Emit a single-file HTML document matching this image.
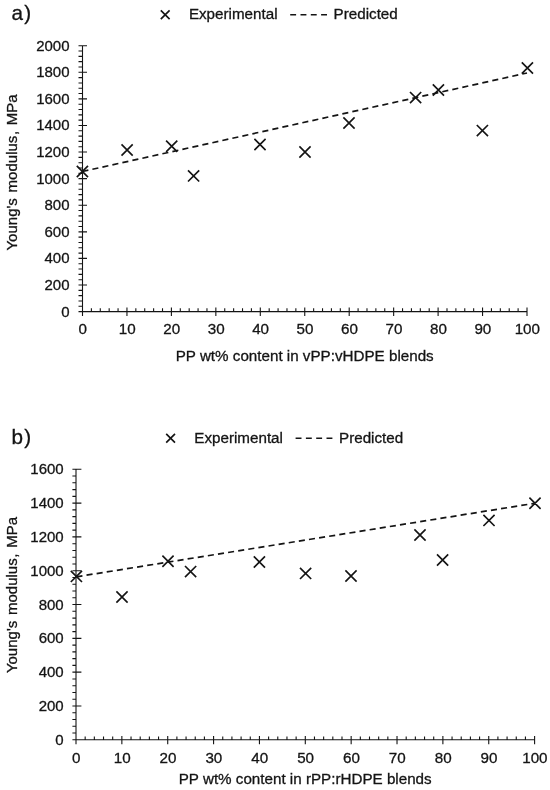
<!DOCTYPE html>
<html lang="en">
<head>
<meta charset="utf-8">
<title>Young's modulus of PP:HDPE blends</title>
<style>
html,body{margin:0;padding:0;background:#fff;}
body{width:550px;height:790px;overflow:hidden;}
svg{display:block;font-family:"Liberation Sans",Arial,Helvetica,sans-serif;font-size:15.2px;}
svg text{fill:#141414;stroke:#141414;stroke-width:0.3px;}
</style>
</head>
<body>
<svg width="550" height="790" viewBox="0 0 550 790">
<rect width="550" height="790" fill="#fff"/>
<g>
<path d="M82.5 45.7 V316 M78.5 311.6 H527 M78.5 45.7H87 M78.5 51.02H82.5 M78.5 56.34H82.5 M78.5 61.65H82.5 M78.5 66.97H82.5 M78.5 72.29H87 M78.5 77.61H82.5 M78.5 82.93H82.5 M78.5 88.24H82.5 M78.5 93.56H82.5 M78.5 98.88H87 M78.5 104.2H82.5 M78.5 109.52H82.5 M78.5 114.83H82.5 M78.5 120.15H82.5 M78.5 125.47H87 M78.5 130.79H82.5 M78.5 136.11H82.5 M78.5 141.42H82.5 M78.5 146.74H82.5 M78.5 152.06H87 M78.5 157.38H82.5 M78.5 162.7H82.5 M78.5 168.01H82.5 M78.5 173.33H82.5 M78.5 178.65H87 M78.5 183.97H82.5 M78.5 189.29H82.5 M78.5 194.6H82.5 M78.5 199.92H82.5 M78.5 205.24H87 M78.5 210.56H82.5 M78.5 215.88H82.5 M78.5 221.19H82.5 M78.5 226.51H82.5 M78.5 231.83H87 M78.5 237.15H82.5 M78.5 242.47H82.5 M78.5 247.78H82.5 M78.5 253.1H82.5 M78.5 258.42H87 M78.5 263.74H82.5 M78.5 269.06H82.5 M78.5 274.37H82.5 M78.5 279.69H82.5 M78.5 285.01H87 M78.5 290.33H82.5 M78.5 295.65H82.5 M78.5 300.96H82.5 M78.5 306.28H82.5 M91.39 308.3V311.6 M100.28 308.3V311.6 M109.17 308.3V311.6 M118.06 308.3V311.6 M126.95 307.6V316 M135.84 308.3V311.6 M144.73 308.3V311.6 M153.62 308.3V311.6 M162.51 308.3V311.6 M171.4 307.6V316 M180.29 308.3V311.6 M189.18 308.3V311.6 M198.07 308.3V311.6 M206.96 308.3V311.6 M215.85 307.6V316 M224.74 308.3V311.6 M233.63 308.3V311.6 M242.52 308.3V311.6 M251.41 308.3V311.6 M260.3 307.6V316 M269.19 308.3V311.6 M278.08 308.3V311.6 M286.97 308.3V311.6 M295.86 308.3V311.6 M304.75 307.6V316 M313.64 308.3V311.6 M322.53 308.3V311.6 M331.42 308.3V311.6 M340.31 308.3V311.6 M349.2 307.6V316 M358.09 308.3V311.6 M366.98 308.3V311.6 M375.87 308.3V311.6 M384.76 308.3V311.6 M393.65 307.6V316 M402.54 308.3V311.6 M411.43 308.3V311.6 M420.32 308.3V311.6 M429.21 308.3V311.6 M438.1 307.6V316 M446.99 308.3V311.6 M455.88 308.3V311.6 M464.77 308.3V311.6 M473.66 308.3V311.6 M482.55 307.6V316 M491.44 308.3V311.6 M500.33 308.3V311.6 M509.22 308.3V311.6 M518.11 308.3V311.6 M527 307.6V316" fill="none" stroke="#141414" stroke-width="1.1"/>
<g text-anchor="end" style="font-size:15px">
<text x="69.5" y="50.7">2000</text>
<text x="69.5" y="77.29">1800</text>
<text x="69.5" y="103.88">1600</text>
<text x="69.5" y="130.47">1400</text>
<text x="69.5" y="157.06">1200</text>
<text x="69.5" y="183.65">1000</text>
<text x="69.5" y="210.24">800</text>
<text x="69.5" y="236.83">600</text>
<text x="69.5" y="263.42">400</text>
<text x="69.5" y="290.01">200</text>
<text x="69.5" y="316.6">0</text>
</g>
<g text-anchor="middle">
<text x="82.8" y="334.1">0</text>
<text x="127.25" y="334.1">10</text>
<text x="171.7" y="334.1">20</text>
<text x="216.15" y="334.1">30</text>
<text x="260.6" y="334.1">40</text>
<text x="305.05" y="334.1">50</text>
<text x="349.5" y="334.1">60</text>
<text x="393.95" y="334.1">70</text>
<text x="438.4" y="334.1">80</text>
<text x="482.85" y="334.1">90</text>
<text x="527.3" y="334.1">100</text>
</g>
<text x="304.7" y="361.1" text-anchor="middle">PP wt% content in vPP:vHDPE blends</text>
<text transform="translate(16.7 172.4) rotate(-90)" text-anchor="middle" style="font-size:15px;word-spacing:1.6px">Young's modulus<tspan dx="0.6">,</tspan> MPa</text>
<text x="11.4" y="20.2" style="font-size:20.7px;letter-spacing:1.3px">a)</text>
<path d="M160.8 10.3l8.8 8.8M160.8 19.1l8.8 -8.8" fill="none" stroke="#141414" stroke-width="1.65"/>
<text x="188.9" y="19.2">Experimental</text>
<path d="M290.2 14.75H327.2" fill="none" stroke="#141414" stroke-width="1.7" stroke-dasharray="5.9 4.4"/>
<text x="333.6" y="19.2">Predicted</text>
<path d="M82.4 171.5L527 73" fill="none" stroke="#141414" stroke-width="1.7" stroke-dasharray="6.1 4.14"/>
<path d="M76.8 165.9l11.2 11.2M76.8 177.1l11.2 -11.2 M121.5 144.4l11.2 11.2M121.5 155.6l11.2 -11.2 M166.1 140.6l11.2 11.2M166.1 151.8l11.2 -11.2 M188 170.3l11.2 11.2M188 181.5l11.2 -11.2 M254.4 138.9l11.2 11.2M254.4 150.1l11.2 -11.2 M299.4 146.4l11.2 11.2M299.4 157.6l11.2 -11.2 M343.4 117.4l11.2 11.2M343.4 128.6l11.2 -11.2 M410 92l11.2 11.2M410 103.2l11.2 -11.2 M432.8 84.4l11.2 11.2M432.8 95.6l11.2 -11.2 M476.8 125l11.2 11.2M476.8 136.2l11.2 -11.2 M521.8 62.4l11.2 11.2M521.8 73.6l11.2 -11.2" fill="none" stroke="#141414" stroke-width="1.65"/>
</g>
<g>
<path d="M76 469.3 V744.2 M72.4 739.8 H534.6 M72.4 469.3H81.4 M72.4 476.06H76 M72.4 482.82H76 M72.4 489.59H76 M72.4 496.35H76 M72.4 503.11H81.4 M72.4 509.88H76 M72.4 516.64H76 M72.4 523.4H76 M72.4 530.16H76 M72.4 536.92H81.4 M72.4 543.69H76 M72.4 550.45H76 M72.4 557.21H76 M72.4 563.98H76 M72.4 570.74H81.4 M72.4 577.5H76 M72.4 584.26H76 M72.4 591.02H76 M72.4 597.79H76 M72.4 604.55H81.4 M72.4 611.31H76 M72.4 618.08H76 M72.4 624.84H76 M72.4 631.6H76 M72.4 638.36H81.4 M72.4 645.12H76 M72.4 651.89H76 M72.4 658.65H76 M72.4 665.41H76 M72.4 672.17H81.4 M72.4 678.94H76 M72.4 685.7H76 M72.4 692.46H76 M72.4 699.22H76 M72.4 705.99H81.4 M72.4 712.75H76 M72.4 719.51H76 M72.4 726.27H76 M72.4 733.04H76 M85.17 736.6V739.8 M94.34 736.6V739.8 M103.52 736.6V739.8 M112.69 736.6V739.8 M121.86 736V744.2 M131.03 736.6V739.8 M140.2 736.6V739.8 M149.38 736.6V739.8 M158.55 736.6V739.8 M167.72 736V744.2 M176.89 736.6V739.8 M186.06 736.6V739.8 M195.24 736.6V739.8 M204.41 736.6V739.8 M213.58 736V744.2 M222.75 736.6V739.8 M231.92 736.6V739.8 M241.1 736.6V739.8 M250.27 736.6V739.8 M259.44 736V744.2 M268.61 736.6V739.8 M277.78 736.6V739.8 M286.96 736.6V739.8 M296.13 736.6V739.8 M305.3 736V744.2 M314.47 736.6V739.8 M323.64 736.6V739.8 M332.82 736.6V739.8 M341.99 736.6V739.8 M351.16 736V744.2 M360.33 736.6V739.8 M369.5 736.6V739.8 M378.68 736.6V739.8 M387.85 736.6V739.8 M397.02 736V744.2 M406.19 736.6V739.8 M415.36 736.6V739.8 M424.54 736.6V739.8 M433.71 736.6V739.8 M442.88 736V744.2 M452.05 736.6V739.8 M461.22 736.6V739.8 M470.4 736.6V739.8 M479.57 736.6V739.8 M488.74 736V744.2 M497.91 736.6V739.8 M507.08 736.6V739.8 M516.26 736.6V739.8 M525.43 736.6V739.8 M534.6 736V744.2" fill="none" stroke="#141414" stroke-width="1.1"/>
<g text-anchor="end" style="font-size:15px">
<text x="63.7" y="474.3">1600</text>
<text x="63.7" y="508.11">1400</text>
<text x="63.7" y="541.92">1200</text>
<text x="63.7" y="575.74">1000</text>
<text x="63.7" y="609.55">800</text>
<text x="63.7" y="643.36">600</text>
<text x="63.7" y="677.17">400</text>
<text x="63.7" y="710.99">200</text>
<text x="63.7" y="744.8">0</text>
</g>
<g text-anchor="middle">
<text x="76.3" y="762.8">0</text>
<text x="122.16" y="762.8">10</text>
<text x="168.02" y="762.8">20</text>
<text x="213.88" y="762.8">30</text>
<text x="259.74" y="762.8">40</text>
<text x="305.6" y="762.8">50</text>
<text x="351.46" y="762.8">60</text>
<text x="397.32" y="762.8">70</text>
<text x="443.18" y="762.8">80</text>
<text x="489.04" y="762.8">90</text>
<text x="534.9" y="762.8">100</text>
</g>
<text x="305.2" y="784.2" text-anchor="middle">PP wt% content in rPP:rHDPE blends</text>
<text transform="translate(17 595) rotate(-90)" text-anchor="middle" style="font-size:15px;word-spacing:1.6px">Young's modulus<tspan dx="0.6">,</tspan> MPa</text>
<text x="11.4" y="443.6" style="font-size:20.7px;letter-spacing:1.3px">b)</text>
<path d="M166.2 433.8l8.8 8.8M166.2 442.6l8.8 -8.8" fill="none" stroke="#141414" stroke-width="1.65"/>
<text x="194.3" y="442.7">Experimental</text>
<path d="M295.6 438.25H332.6" fill="none" stroke="#141414" stroke-width="1.7" stroke-dasharray="5.9 4.4"/>
<text x="339" y="442.7">Predicted</text>
<path d="M76.4 576.8L534.6 503.3" fill="none" stroke="#141414" stroke-width="1.7" stroke-dasharray="6.1 4.14"/>
<path d="M70.8 570.8l11.2 11.2M70.8 582l11.2 -11.2 M116.4 591.4l11.2 11.2M116.4 602.6l11.2 -11.2 M162.4 555.6l11.2 11.2M162.4 566.8l11.2 -11.2 M185 566l11.2 11.2M185 577.2l11.2 -11.2 M253.8 556.4l11.2 11.2M253.8 567.6l11.2 -11.2 M300 567.8l11.2 11.2M300 579l11.2 -11.2 M345.4 570.4l11.2 11.2M345.4 581.6l11.2 -11.2 M414.4 529.4l11.2 11.2M414.4 540.6l11.2 -11.2 M437 554.4l11.2 11.2M437 565.6l11.2 -11.2 M483.4 514.8l11.2 11.2M483.4 526l11.2 -11.2 M529.4 497.6l11.2 11.2M529.4 508.8l11.2 -11.2" fill="none" stroke="#141414" stroke-width="1.65"/>
</g>
</svg>
</body>
</html>
